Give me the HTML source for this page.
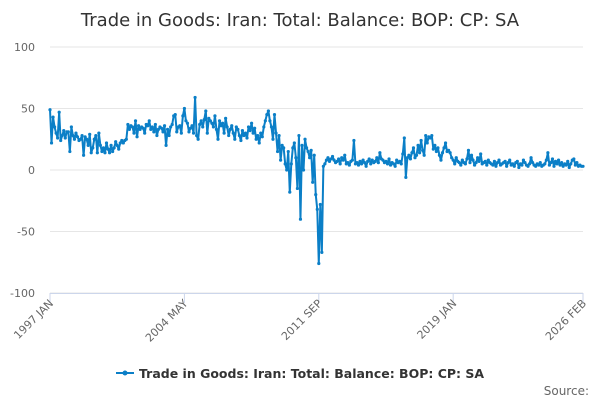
<!DOCTYPE html>
<html><head><meta charset="utf-8"><style>
body{margin:0;background:#fff;font-family:"DejaVu Sans","Liberation Sans",sans-serif}
svg text{font-family:"DejaVu Sans","Liberation Sans",sans-serif}
</style></head><body>
<svg id="c" width="600" height="400">
<text x="300" y="26" text-anchor="middle" font-size="18" fill="#333">Trade in Goods: Iran: Total: Balance: BOP: CP: SA</text>
<g id="grid"></g><g id="xaxis"></g><g id="series"></g>
<g>
<line x1="116" y1="373" x2="134" y2="373" stroke="#0b7fc7" stroke-width="2"/>
<circle cx="125" cy="373" r="2.5" fill="#0b7fc7"/>
<text x="139" y="378" font-size="12.5" font-weight="bold" fill="#333">Trade in Goods: Iran: Total: Balance: BOP: CP: SA</text>
</g>
<text x="589" y="395" text-anchor="end" font-size="12" fill="#666">Source:</text>
</svg>
<script>
const yTicks=[100,50,0,-50,-100];
const xTickLabels=["1997 JAN","2004 MAY","2011 SEP","2019 JAN","2026 FEB"];
const xTickIdx=[0,88,176,264,349];
const values=[
49,22,43,35,30,26,47,24,28,32,26,31,
31,15,35,28,25,30,27,24,25,28,12,27,
25,20,29,14,18,25,28,14,30,20,15,18,
14,22,17,14,20,15,18,23,20,17,22,24,
22,24,25,37,33,36,35,30,40,27,36,33,
35,34,30,37,36,40,33,35,31,37,28,33,
35,34,31,36,20,33,28,35,37,44,45,31,
35,36,30,44,50,40,38,31,34,36,30,59,
28,25,37,40,35,41,48,30,42,40,38,35,
44,33,25,40,36,38,30,42,35,28,33,36,
30,25,35,33,28,24,32,28,30,26,35,32,
38,30,34,25,28,22,30,27,35,40,45,48,
40,35,25,45,30,15,28,8,20,18,5,0,
15,-18,5,18,22,10,-15,28,-40,20,0,25,
18,15,10,16,-10,12,-20,-32,-76,-28,-67,3,
5,8,10,7,9,11,8,6,7,9,5,10,
8,12,5,6,4,7,8,24,5,6,4,7,
5,8,6,3,7,9,5,8,6,7,10,6,
14,9,8,6,7,5,9,4,6,5,3,8,
6,7,5,13,26,-6,10,12,9,14,18,10,
12,20,14,24,16,12,28,22,27,26,28,17,
20,15,18,12,8,14,18,22,15,16,14,10,
8,5,10,7,6,4,8,6,5,9,16,6,
12,8,4,6,10,7,13,5,6,7,4,8,
6,5,4,7,3,6,8,4,5,6,7,3,
6,8,4,5,3,6,7,2,5,4,8,6,
4,3,5,10,6,4,3,5,4,6,3,4,
5,8,14,4,6,9,3,7,5,8,4,6,
3,5,4,7,2,5,8,9,4,6,3,4,
3,3];
const NS="http://www.w3.org/2000/svg";
const X0=50,X1=583,Y0=170,K=1.23;
const n=values.length;
function xs(i){return X0+i*(X1-X0)/(n-1);}
function ys(v){return Y0-v*K;}
function mk(t,a,p){const e=document.createElementNS(NS,t);for(const k in a)e.setAttribute(k,a[k]);p.appendChild(e);return e;}
const grid=document.getElementById('grid');
yTicks.forEach(v=>{
 const l=mk('line',{x1:X0,x2:X1,y1:ys(v),y2:ys(v),stroke:'#e6e6e6','stroke-width':1},grid);
 
 
 const t=mk('text',{x:35,y:ys(v)+4,'text-anchor':'end','font-size':11,fill:'#666'},grid);
 t.textContent=v;
 
 
});
const xa=document.getElementById('xaxis');
const ax=mk('line',{x1:X0,x2:X1,y1:293.5,y2:293.5,stroke:'#ccd6eb'},xa);


xTickIdx.forEach((idx,k)=>{
 const x=xs(idx);
 const tk=mk('line',{x1:x,x2:x,y1:293,y2:303,stroke:'#ccd6eb'},xa);
 
 
 const t=mk('text',{x:x+4,y:304,'text-anchor':'end','font-size':11,fill:'#666',transform:`rotate(-45 ${x+4} 304)`},xa);
 t.textContent=xTickLabels[k];
 
 
});
const s=document.getElementById('series');
const pts=values.map((v,i)=>xs(i).toFixed(2)+','+ys(v).toFixed(2)).join(' ');
const pl=mk('polyline',{points:pts,fill:'none',stroke:'#0b7fc7','stroke-width':2,'stroke-linejoin':'round'},s);


values.forEach((v,i)=>{
 const c=mk('circle',{cx:xs(i),cy:ys(v),r:1.6,fill:'#0b7fc7'},s);
 
 
});
</script>
</body></html>
